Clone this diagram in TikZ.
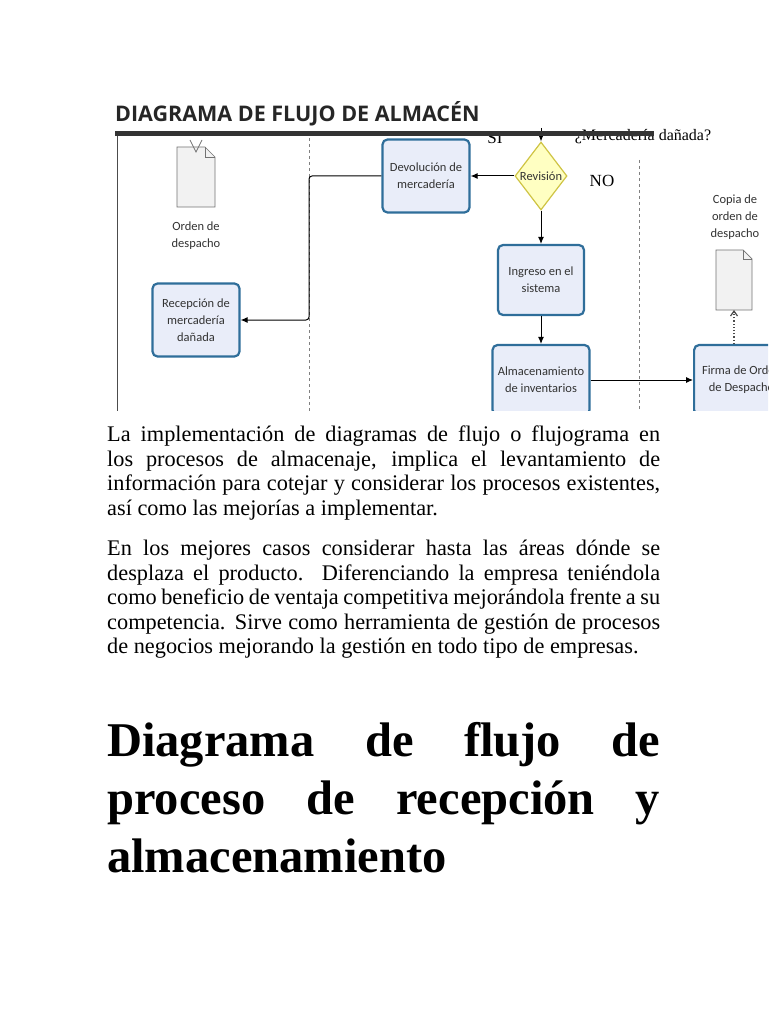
\documentclass[tikz,border=0pt]{standalone}
\usepackage{fontspec}
\setmainfont{Liberation Serif}
\newfontfamily\titlefont{Open Sans}
\newfontfamily\boxfont{Carlito}
\usetikzlibrary{shapes.geometric,arrows.meta}
\definecolor{boxfill}{HTML}{E9EDF9}
\definecolor{boxline}{HTML}{2F6E9A}
\definecolor{dfill}{HTML}{FFFFC2}
\definecolor{dline}{HTML}{CFC444}
\newcommand\nohy{\hyphenpenalty 10000\exhyphenpenalty 10000\relax}
\begin{document}
\begin{tikzpicture}[x=1pt,y=-1pt,
  procbox/.style={draw=boxline,line width=2.2pt,fill=boxfill,rounded corners=5pt,align=center,font=\boxfont\fontsize{12.5}{17}\selectfont,text=black!80,inner sep=0pt},
  arr/.style={line width=1pt,-{Latex[length=7pt,width=6pt]}},
  docshape/.style={draw=black!55,fill=black!5,line width=0.7pt},
  lbl/.style={font=\boxfont\fontsize{12.5}{17}\selectfont,align=center,text=black!80},
  para/.style={anchor=north west,inner sep=0pt,text width=553pt,align=justify}]
\useasboundingbox (0,0) rectangle (768,1024);
\fill[white] (0,0) rectangle (768,1024);
\begin{scope}
\clip (0,128) rectangle (768,410);
\draw[line width=1pt,black!70] (117,135) -- (117,415);
\draw[dashed,black!50,line width=0.8pt] (309,138) -- (309,415);
\draw[dashed,black!50,line width=0.8pt] (639,160) -- (639,415);
\draw[docshape] (177,147) -- (205,147) -- (215,157) -- (215,207) -- (177,207) -- cycle;
\draw[black!55,line width=0.7pt] (205,147) -- (205,157) -- (215,157);
\draw[black!55,line width=0.7pt] (190,140) -- (196,152) -- (202,140);
\node[lbl] (orden) at (196,236) {Orden de\\despacho};
\node[procbox,minimum width=87pt,minimum height=73pt] (dev) at (426,176) {Devolución de\\mercadería};
\node[draw=dline,fill=dfill,line width=1.2pt,diamond,minimum width=52pt,minimum height=68pt,inner sep=0pt,font=\boxfont\fontsize{12.5}{14}\selectfont,text=black!80] (rev) at (541,176) {Revisión};
\node[procbox,minimum width=86pt,minimum height=70pt] (ing) at (541,280) {Ingreso en el\\sistema};
\node[procbox,minimum width=97pt,minimum height=70pt] (alm) at (541,380) {Almacenamiento\\de inventarios};
\node[procbox,minimum width=87pt,minimum height=73pt] (rec) at (196,320) {Recepción de\\mercadería\\dañada};
\node[procbox,minimum width=95pt,minimum height=70pt,anchor=west] (firma) at (693,380) {Firma de Orden\\de Despacho};
\node[lbl] (copia) at (735,217) {Copia de\\orden de\\despacho};
\draw[docshape] (716,250) -- (743,250) -- (752,259) -- (752,310) -- (716,310) -- cycle;
\draw[black!55,line width=0.7pt] (743,250) -- (743,259) -- (752,259);
\coordinate (docb) at (734,310);
\draw[dotted,line width=1.2pt,black!70,-{Straight Barb[open,length=5pt,width=7pt]}] (firma.north -| docb) -- (docb);
\node[font=\fontsize{17}{18}\selectfont] (si) at (495,138) {SI};
\node[font=\fontsize{16}{16}\selectfont] (merc) at (643,137) {¿Mercadería dañada?};
\node[font=\fontsize{17}{18}\selectfont] (no) at (602,181) {NO};
\coordinate (top) at (541,128);
\draw[arr] (top) -- (rev.north);
\draw[arr] (rev.west) -- (dev.east);
\draw[line width=1pt,rounded corners=3pt,-{Latex[length=7pt,width=6pt]}] (dev.west) -- (309,176) -- (309,320) -- (rec.east);
\draw[arr] (rev.south) -- (ing.north);
\draw[arr] (ing.south) -- (alm.north);
\draw[arr] (alm.east) -- (firma.west);
\end{scope}
\fill[black!80] (115,131) rectangle (654,136);
\node[anchor=base west,inner sep=0pt,font=\titlefont\bfseries\fontsize{21.5}{24}\selectfont,text=black!85] (title) at (115,122) {DIAGRAMA DE FLUJO DE ALMACÉN};
\node[para,font=\fontsize{22.3}{24.5}\selectfont\nohy] (p1) at (107,426) {La implementación de diagramas de flujo o flujograma en los procesos de almacenaje, implica el levantamiento de información para cotejar y considerar los procesos existentes, así como las mejorías a implementar.};
\node[para,font=\fontsize{22.3}{24.5}\selectfont\nohy] (p2) at (107,540) {En los mejores casos considerar hasta las áreas dónde se desplaza el producto. Diferenciando la empresa teniéndola como beneficio de ventaja competitiva mejorándola frente a su competencia. Sirve como herramienta de gestión de procesos de negocios mejorando la gestión en todo tipo de empresas.};
\node[para,font=\bfseries\fontsize{48.5}{58}\selectfont\nohy] (h) at (107,722) {Diagrama de flujo de proceso de recepción y almacenamiento};
\end{tikzpicture}
\end{document}
